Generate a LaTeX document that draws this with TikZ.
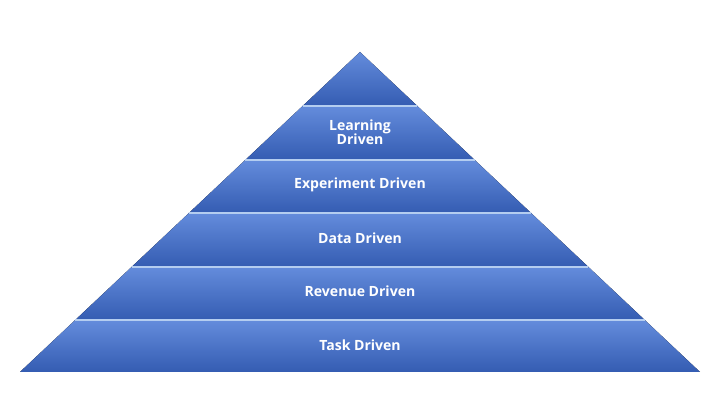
\documentclass[tikz,border=0pt]{standalone}
\usepackage{fontspec}
\setmainfont{Open Sans}
\begin{document}
\begin{tikzpicture}[x=0.03cm,y=-0.03cm]
\useasboundingbox (0,0) rectangle (720,405);
\tikzset{lbl/.style={text=white,font=\bfseries\fontsize{12}{14}\selectfont,align=center},
band/.style={top color=blue!30!cyan!10!white!0!{rgb,255:red,95;green,135;blue,215},bottom color={rgb,255:red,55;green,95;blue,180},draw=none},
sep/.style={draw={rgb,255:red,180;green,205;blue,240},line width=1.2pt}}
\def\ay{52}\def\by{372}\def\hw{340}
\foreach \t/\b in {52/106,106/160,160/213,213/267,267/320,320/372}{
  \pgfmathsetmacro\wt{(\t-\ay)/(\by-\ay)*\hw}
  \pgfmathsetmacro\wb{(\b-\ay)/(\by-\ay)*\hw}
  \fill[top color={rgb,255:red,100;green,140;blue,220},bottom color={rgb,255:red,52;green,92;blue,178}]
    (360-\wt,\t) -- (360+\wt,\t) -- (360+\wb,\b) -- (360-\wb,\b) -- cycle;
}
\foreach \t in {106,160,213,267,320}{
  \pgfmathsetmacro\wt{(\t-\ay)/(\by-\ay)*\hw}
  \draw[sep] (360-\wt,\t) coordinate (l\t) -- (360+\wt,\t) coordinate (r\t);
}
\node[lbl] (n1) at (360,132) {Learning\\[-2pt]Driven};
\node[lbl] (n2) at (360,185) {Experiment Driven};
\node[lbl] (n3) at (360,238) {Data Driven};
\node[lbl] (n4) at (360,291) {Revenue Driven};
\node[lbl] (n5) at (360,345) {Task Driven};
\end{tikzpicture}
\end{document}
